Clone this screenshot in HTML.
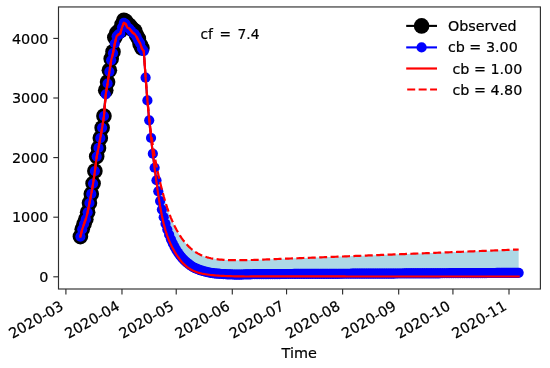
<!DOCTYPE html>
<html><head><meta charset="utf-8"><title>Forecast chart</title>
<style>html,body{margin:0;padding:0;background:#fff}body{width:550px;height:368px;overflow:hidden}svg text{stroke:#000;stroke-width:.2px}</style></head>
<body>
<svg width="550" height="368" viewBox="0 0 550 368" style="display:block" font-family="'DejaVu Sans', 'Liberation Sans', sans-serif" font-size="14.4px" fill="#000">
<rect width="550" height="368" fill="#fff"/>
<filter id="soft" filterUnits="userSpaceOnUse" x="0" y="0" width="550" height="368"><feGaussianBlur stdDeviation="0.4"/></filter>
<g filter="url(#soft)">
<rect width="550" height="368" fill="#fff"/>
<clipPath id="ax"><rect x="58.5" y="6.95" width="481.9" height="282.05"/></clipPath>
<g clip-path="url(#ax)">
<path d="M143.78,51.10 L145.60,76.79 L147.41,99.54 L149.22,118.08 L151.03,132.88 L152.84,145.23 L154.65,155.96 L156.46,165.54 L158.27,174.24 L160.08,182.23 L161.90,189.58 L163.71,196.31 L165.52,202.46 L167.33,208.06 L169.14,213.17 L170.95,217.83 L172.76,222.07 L174.57,225.94 L176.38,229.48 L178.19,232.71 L180.00,235.66 L181.82,238.35 L183.63,240.79 L185.44,243.01 L187.25,245.03 L189.06,246.86 L190.87,248.52 L192.68,250.01 L194.49,251.35 L196.30,252.55 L198.12,253.61 L199.93,254.56 L201.74,255.40 L203.55,256.13 L205.36,256.77 L207.17,257.32 L208.98,257.80 L210.79,258.21 L212.60,258.56 L214.41,258.87 L216.22,259.13 L218.04,259.35 L219.85,259.54 L221.66,259.69 L223.47,259.82 L225.28,259.93 L227.09,260.02 L228.90,260.09 L230.71,260.14 L232.52,260.18 L234.34,260.20 L236.15,260.21 L237.96,260.21 L239.77,260.20 L241.58,260.18 L243.39,260.15 L245.20,260.12 L247.01,260.08 L248.82,260.05 L250.63,260.02 L252.44,259.99 L254.26,259.92 L256.07,259.85 L257.88,259.78 L259.69,259.70 L261.50,259.63 L263.31,259.56 L265.12,259.49 L266.93,259.42 L268.74,259.35 L270.56,259.28 L272.37,259.21 L274.18,259.14 L275.99,259.07 L277.80,259.00 L279.61,258.93 L281.42,258.86 L283.23,258.79 L285.04,258.72 L286.85,258.65 L288.66,258.58 L290.48,258.51 L292.29,258.44 L294.10,258.37 L295.91,258.30 L297.72,258.23 L299.53,258.16 L301.34,258.09 L303.15,258.02 L304.96,257.95 L306.77,257.88 L308.59,257.81 L310.40,257.74 L312.21,257.67 L314.02,257.60 L315.83,257.53 L317.64,257.46 L319.45,257.39 L321.26,257.32 L323.07,257.25 L324.88,257.18 L326.70,257.11 L328.51,257.04 L330.32,256.97 L332.13,256.90 L333.94,256.83 L335.75,256.76 L337.56,256.69 L339.37,256.62 L341.18,256.55 L343.00,256.48 L344.81,256.41 L346.62,256.34 L348.43,256.26 L350.24,256.19 L352.05,256.12 L353.86,256.05 L355.67,255.97 L357.48,255.90 L359.29,255.83 L361.11,255.76 L362.92,255.68 L364.73,255.61 L366.54,255.54 L368.35,255.47 L370.16,255.39 L371.97,255.32 L373.78,255.25 L375.59,255.18 L377.40,255.10 L379.22,255.03 L381.03,254.96 L382.84,254.89 L384.65,254.82 L386.46,254.74 L388.27,254.67 L390.08,254.60 L391.89,254.53 L393.70,254.46 L395.51,254.38 L397.33,254.31 L399.14,254.24 L400.95,254.17 L402.76,254.10 L404.57,254.03 L406.38,253.95 L408.19,253.88 L410.00,253.81 L411.81,253.74 L413.62,253.67 L415.43,253.59 L417.25,253.52 L419.06,253.45 L420.87,253.38 L422.68,253.31 L424.49,253.24 L426.30,253.16 L428.11,253.09 L429.92,253.02 L431.73,252.95 L433.54,252.88 L435.36,252.80 L437.17,252.73 L438.98,252.66 L440.79,252.59 L442.60,252.52 L444.41,252.45 L446.22,252.37 L448.03,252.30 L449.84,252.23 L451.65,252.16 L453.47,252.09 L455.28,252.01 L457.09,251.94 L458.90,251.87 L460.71,251.80 L462.52,251.73 L464.33,251.65 L466.14,251.58 L467.95,251.51 L469.76,251.44 L471.58,251.37 L473.39,251.30 L475.20,251.22 L477.01,251.15 L478.82,251.08 L480.63,251.01 L482.44,250.94 L484.25,250.86 L486.06,250.79 L487.88,250.72 L489.69,250.65 L491.50,250.58 L493.31,250.51 L495.12,250.43 L496.93,250.36 L498.74,250.29 L500.55,250.22 L502.36,250.15 L504.17,250.07 L505.99,250.00 L507.80,249.93 L509.61,249.86 L511.42,249.79 L513.23,249.72 L515.04,249.64 L516.85,249.57 L518.66,249.50 L518.66,276.50 L516.85,276.50 L515.04,276.50 L513.23,276.50 L511.42,276.50 L509.61,276.50 L507.80,276.50 L505.99,276.50 L504.17,276.50 L502.36,276.50 L500.55,276.50 L498.74,276.50 L496.93,276.50 L495.12,276.50 L493.31,276.50 L491.50,276.50 L489.69,276.50 L487.88,276.50 L486.06,276.50 L484.25,276.50 L482.44,276.50 L480.63,276.50 L478.82,276.50 L477.01,276.50 L475.20,276.50 L473.39,276.50 L471.58,276.50 L469.76,276.50 L467.95,276.50 L466.14,276.50 L464.33,276.50 L462.52,276.50 L460.71,276.50 L458.90,276.50 L457.09,276.50 L455.28,276.50 L453.47,276.50 L451.65,276.50 L449.84,276.50 L448.03,276.50 L446.22,276.50 L444.41,276.50 L442.60,276.50 L440.79,276.50 L438.98,276.50 L437.17,276.50 L435.36,276.50 L433.54,276.50 L431.73,276.50 L429.92,276.50 L428.11,276.50 L426.30,276.50 L424.49,276.50 L422.68,276.50 L420.87,276.50 L419.06,276.50 L417.25,276.50 L415.43,276.50 L413.62,276.50 L411.81,276.50 L410.00,276.50 L408.19,276.50 L406.38,276.50 L404.57,276.50 L402.76,276.50 L400.95,276.50 L399.14,276.50 L397.33,276.50 L395.51,276.50 L393.70,276.50 L391.89,276.50 L390.08,276.50 L388.27,276.50 L386.46,276.50 L384.65,276.50 L382.84,276.50 L381.03,276.50 L379.22,276.50 L377.40,276.50 L375.59,276.50 L373.78,276.50 L371.97,276.49 L370.16,276.49 L368.35,276.49 L366.54,276.49 L364.73,276.49 L362.92,276.49 L361.11,276.49 L359.29,276.49 L357.48,276.48 L355.67,276.48 L353.86,276.48 L352.05,276.48 L350.24,276.48 L348.43,276.48 L346.62,276.48 L344.81,276.47 L343.00,276.47 L341.18,276.47 L339.37,276.47 L337.56,276.47 L335.75,276.47 L333.94,276.47 L332.13,276.47 L330.32,276.46 L328.51,276.46 L326.70,276.46 L324.88,276.46 L323.07,276.46 L321.26,276.46 L319.45,276.46 L317.64,276.46 L315.83,276.45 L314.02,276.45 L312.21,276.45 L310.40,276.45 L308.59,276.45 L306.77,276.45 L304.96,276.45 L303.15,276.45 L301.34,276.44 L299.53,276.44 L297.72,276.44 L295.91,276.44 L294.10,276.44 L292.29,276.44 L290.48,276.44 L288.66,276.43 L286.85,276.43 L285.04,276.43 L283.23,276.43 L281.42,276.43 L279.61,276.43 L277.80,276.43 L275.99,276.43 L274.18,276.42 L272.37,276.42 L270.56,276.42 L268.74,276.42 L266.93,276.42 L265.12,276.42 L263.31,276.42 L261.50,276.42 L259.69,276.42 L257.88,276.42 L256.07,276.43 L254.26,276.44 L252.44,276.46 L250.63,276.47 L248.82,276.48 L247.01,276.48 L245.20,276.48 L243.39,276.47 L241.58,276.46 L239.77,276.44 L237.96,276.40 L236.15,276.37 L234.34,276.32 L232.52,276.27 L230.71,276.21 L228.90,276.15 L227.09,276.09 L225.28,276.01 L223.47,275.93 L221.66,275.83 L219.85,275.73 L218.04,275.61 L216.22,275.48 L214.41,275.33 L212.60,275.17 L210.79,274.98 L208.98,274.76 L207.17,274.52 L205.36,274.24 L203.55,273.92 L201.74,273.55 L199.93,273.11 L198.12,272.60 L196.30,272.00 L194.49,271.31 L192.68,270.49 L190.87,269.54 L189.06,268.42 L187.25,267.13 L185.44,265.64 L183.63,263.91 L181.82,261.94 L180.00,259.72 L178.19,257.25 L176.38,254.55 L174.57,251.62 L172.76,248.41 L170.95,244.84 L169.14,240.80 L167.33,236.11 L165.52,230.49 L163.71,223.73 L161.90,215.65 L160.08,206.05 L158.27,194.87 L156.46,182.23 L154.65,168.54 L152.84,153.88 L151.03,138.01 L149.22,120.32 L147.41,100.37 L145.60,77.65 L143.78,51.10Z" fill="#add8e6"/>
<path d="M80.40,236.60 L82.21,229.30 L84.02,224.00 L85.83,219.20 L87.64,212.30 L89.46,203.00 L91.27,193.90 L93.08,183.60 L94.89,171.10 L96.70,156.60 L98.51,147.90 L100.32,138.10 L102.13,127.80 L103.94,116.10 L105.75,90.30 L107.56,82.00 L109.38,70.20 L111.19,58.80 L113.00,51.70 L114.81,37.50 L116.62,33.30 L118.43,31.40 L120.24,30.70 L122.05,24.60 L123.86,20.20 L125.68,21.30 L127.49,24.40 L129.30,25.20 L131.11,27.50 L132.92,29.70 L134.73,30.70 L136.54,35.30 L138.35,38.50 L140.16,44.40 L141.97,48.00" fill="none" stroke="#000" stroke-width="2.1" stroke-linejoin="round"/>
<g fill="#000"><circle cx="80.40" cy="236.60" r="7.8"/><circle cx="82.21" cy="229.30" r="7.8"/><circle cx="84.02" cy="224.00" r="7.8"/><circle cx="85.83" cy="219.20" r="7.8"/><circle cx="87.64" cy="212.30" r="7.8"/><circle cx="89.46" cy="203.00" r="7.8"/><circle cx="91.27" cy="193.90" r="7.8"/><circle cx="93.08" cy="183.60" r="7.8"/><circle cx="94.89" cy="171.10" r="7.8"/><circle cx="96.70" cy="156.60" r="7.8"/><circle cx="98.51" cy="147.90" r="7.8"/><circle cx="100.32" cy="138.10" r="7.8"/><circle cx="102.13" cy="127.80" r="7.8"/><circle cx="103.94" cy="116.10" r="7.8"/><circle cx="105.75" cy="90.30" r="7.8"/><circle cx="107.56" cy="82.00" r="7.8"/><circle cx="109.38" cy="70.20" r="7.8"/><circle cx="111.19" cy="58.80" r="7.8"/><circle cx="113.00" cy="51.70" r="7.8"/><circle cx="114.81" cy="37.50" r="7.8"/><circle cx="116.62" cy="33.30" r="7.8"/><circle cx="118.43" cy="31.40" r="7.8"/><circle cx="120.24" cy="30.70" r="7.8"/><circle cx="122.05" cy="24.60" r="7.8"/><circle cx="123.86" cy="20.20" r="7.8"/><circle cx="125.68" cy="21.30" r="7.8"/><circle cx="127.49" cy="24.40" r="7.8"/><circle cx="129.30" cy="25.20" r="7.8"/><circle cx="131.11" cy="27.50" r="7.8"/><circle cx="132.92" cy="29.70" r="7.8"/><circle cx="134.73" cy="30.70" r="7.8"/><circle cx="136.54" cy="35.30" r="7.8"/><circle cx="138.35" cy="38.50" r="7.8"/><circle cx="140.16" cy="44.40" r="7.8"/><circle cx="141.97" cy="48.00" r="7.8"/></g>
<path d="M80.40,236.60 L82.21,229.30 L84.02,224.00 L85.83,219.20 L87.64,212.30 L89.46,203.00 L91.27,193.90 L93.08,183.60 L94.89,171.10 L96.70,156.60 L98.51,147.90 L100.32,138.10 L102.13,127.80 L103.94,116.10 L105.75,94.30 L107.56,83.50 L109.38,71.70 L111.19,60.30 L113.00,53.20 L114.81,43.50 L116.62,36.30 L118.43,34.40 L120.24,33.70 L122.05,27.30 L123.86,22.80 L125.68,24.00 L127.49,27.70 L129.30,28.50 L131.11,30.80 L132.92,33.00 L134.73,34.00 L136.54,36.80 L138.35,40.50 L140.16,43.40 L141.97,48.60 L143.78,51.10 L145.60,77.72 L147.41,100.40 L149.22,120.31 L151.03,137.98 L152.84,153.73 L154.65,167.76 L156.46,180.24 L158.27,191.29 L160.08,201.03 L161.90,209.60 L163.71,217.13 L165.52,223.76 L167.33,229.59 L169.14,234.73 L170.95,239.28 L172.76,243.29 L174.57,246.86 L176.38,250.02 L178.19,252.83 L180.00,255.34 L181.82,257.58 L183.63,259.58 L185.44,261.37 L187.25,262.97 L189.06,264.40 L190.87,265.67 L192.68,266.80 L194.49,267.79 L196.30,268.67 L198.12,269.44 L199.93,270.12 L201.74,270.72 L203.55,271.25 L205.36,271.72 L207.17,272.13 L208.98,272.49 L210.79,272.80 L212.60,273.08 L214.41,273.32 L216.22,273.53 L218.04,273.71 L219.85,273.87 L221.66,274.00 L223.47,274.12 L225.28,274.22 L227.09,274.30 L228.90,274.37 L230.71,274.44 L232.52,274.49 L234.34,274.53 L236.15,274.55 L237.96,274.56 L239.77,274.55 L241.58,274.53 L243.39,274.50 L245.20,274.46 L247.01,274.42 L248.82,274.37 L250.63,274.31 L252.44,274.26 L254.26,274.22 L256.07,274.18 L257.88,274.15 L259.69,274.12 L261.50,274.11 L263.31,274.10 L265.12,274.09 L266.93,274.09 L268.74,274.08 L270.56,274.07 L272.37,274.06 L274.18,274.05 L275.99,274.05 L277.80,274.04 L279.61,274.03 L281.42,274.02 L283.23,274.02 L285.04,274.01 L286.85,274.00 L288.66,273.99 L290.48,273.98 L292.29,273.98 L294.10,273.97 L295.91,273.96 L297.72,273.95 L299.53,273.95 L301.34,273.94 L303.15,273.93 L304.96,273.92 L306.77,273.91 L308.59,273.91 L310.40,273.90 L312.21,273.89 L314.02,273.88 L315.83,273.88 L317.64,273.87 L319.45,273.86 L321.26,273.85 L323.07,273.84 L324.88,273.84 L326.70,273.83 L328.51,273.82 L330.32,273.81 L332.13,273.81 L333.94,273.80 L335.75,273.79 L337.56,273.78 L339.37,273.77 L341.18,273.77 L343.00,273.76 L344.81,273.75 L346.62,273.74 L348.43,273.74 L350.24,273.73 L352.05,273.72 L353.86,273.71 L355.67,273.70 L357.48,273.70 L359.29,273.69 L361.11,273.68 L362.92,273.67 L364.73,273.67 L366.54,273.66 L368.35,273.65 L370.16,273.64 L371.97,273.63 L373.78,273.63 L375.59,273.62 L377.40,273.61 L379.22,273.60 L381.03,273.60 L382.84,273.59 L384.65,273.58 L386.46,273.57 L388.27,273.56 L390.08,273.55 L391.89,273.54 L393.70,273.53 L395.51,273.52 L397.33,273.51 L399.14,273.50 L400.95,273.49 L402.76,273.48 L404.57,273.47 L406.38,273.46 L408.19,273.45 L410.00,273.44 L411.81,273.43 L413.62,273.42 L415.43,273.41 L417.25,273.40 L419.06,273.39 L420.87,273.38 L422.68,273.37 L424.49,273.36 L426.30,273.35 L428.11,273.34 L429.92,273.33 L431.73,273.32 L433.54,273.31 L435.36,273.30 L437.17,273.29 L438.98,273.28 L440.79,273.27 L442.60,273.26 L444.41,273.25 L446.22,273.24 L448.03,273.23 L449.84,273.22 L451.65,273.21 L453.47,273.20 L455.28,273.19 L457.09,273.18 L458.90,273.17 L460.71,273.16 L462.52,273.15 L464.33,273.14 L466.14,273.13 L467.95,273.12 L469.76,273.11 L471.58,273.10 L473.39,273.10 L475.20,273.09 L477.01,273.08 L478.82,273.07 L480.63,273.06 L482.44,273.05 L484.25,273.04 L486.06,273.03 L487.88,273.02 L489.69,273.01 L491.50,273.00 L493.31,272.99 L495.12,272.98 L496.93,272.97 L498.74,272.96 L500.55,272.95 L502.36,272.94 L504.17,272.93 L505.99,272.92 L507.80,272.91 L509.61,272.90 L511.42,272.89 L513.23,272.88 L515.04,272.87 L516.85,272.86 L518.66,272.85" fill="none" stroke="#00f" stroke-width="2.1" stroke-linejoin="round"/>
<g fill="#00f"><circle cx="80.40" cy="236.60" r="5.1"/><circle cx="82.21" cy="229.30" r="5.1"/><circle cx="84.02" cy="224.00" r="5.1"/><circle cx="85.83" cy="219.20" r="5.1"/><circle cx="87.64" cy="212.30" r="5.1"/><circle cx="89.46" cy="203.00" r="5.1"/><circle cx="91.27" cy="193.90" r="5.1"/><circle cx="93.08" cy="183.60" r="5.1"/><circle cx="94.89" cy="171.10" r="5.1"/><circle cx="96.70" cy="156.60" r="5.1"/><circle cx="98.51" cy="147.90" r="5.1"/><circle cx="100.32" cy="138.10" r="5.1"/><circle cx="102.13" cy="127.80" r="5.1"/><circle cx="103.94" cy="116.10" r="5.1"/><circle cx="105.75" cy="94.30" r="5.1"/><circle cx="107.56" cy="83.50" r="5.1"/><circle cx="109.38" cy="71.70" r="5.1"/><circle cx="111.19" cy="60.30" r="5.1"/><circle cx="113.00" cy="53.20" r="5.1"/><circle cx="114.81" cy="43.50" r="5.1"/><circle cx="116.62" cy="36.30" r="5.1"/><circle cx="118.43" cy="34.40" r="5.1"/><circle cx="120.24" cy="33.70" r="5.1"/><circle cx="122.05" cy="27.30" r="5.1"/><circle cx="123.86" cy="22.80" r="5.1"/><circle cx="125.68" cy="24.00" r="5.1"/><circle cx="127.49" cy="27.70" r="5.1"/><circle cx="129.30" cy="28.50" r="5.1"/><circle cx="131.11" cy="30.80" r="5.1"/><circle cx="132.92" cy="33.00" r="5.1"/><circle cx="134.73" cy="34.00" r="5.1"/><circle cx="136.54" cy="36.80" r="5.1"/><circle cx="138.35" cy="40.50" r="5.1"/><circle cx="140.16" cy="43.40" r="5.1"/><circle cx="141.97" cy="48.60" r="5.1"/><circle cx="143.78" cy="51.10" r="5.1"/><circle cx="145.60" cy="77.72" r="5.1"/><circle cx="147.41" cy="100.40" r="5.1"/><circle cx="149.22" cy="120.31" r="5.1"/><circle cx="151.03" cy="137.98" r="5.1"/><circle cx="152.84" cy="153.73" r="5.1"/><circle cx="154.65" cy="167.76" r="5.1"/><circle cx="156.46" cy="180.24" r="5.1"/><circle cx="158.27" cy="191.29" r="5.1"/><circle cx="160.08" cy="201.03" r="5.1"/><circle cx="161.90" cy="209.60" r="5.1"/><circle cx="163.71" cy="217.13" r="5.1"/><circle cx="165.52" cy="223.76" r="5.1"/><circle cx="167.33" cy="229.59" r="5.1"/><circle cx="169.14" cy="234.73" r="5.1"/><circle cx="170.95" cy="239.28" r="5.1"/><circle cx="172.76" cy="243.29" r="5.1"/><circle cx="174.57" cy="246.86" r="5.1"/><circle cx="176.38" cy="250.02" r="5.1"/><circle cx="178.19" cy="252.83" r="5.1"/><circle cx="180.00" cy="255.34" r="5.1"/><circle cx="181.82" cy="257.58" r="5.1"/><circle cx="183.63" cy="259.58" r="5.1"/><circle cx="185.44" cy="261.37" r="5.1"/><circle cx="187.25" cy="262.97" r="5.1"/><circle cx="189.06" cy="264.40" r="5.1"/><circle cx="190.87" cy="265.67" r="5.1"/><circle cx="192.68" cy="266.80" r="5.1"/><circle cx="194.49" cy="267.79" r="5.1"/><circle cx="196.30" cy="268.67" r="5.1"/><circle cx="198.12" cy="269.44" r="5.1"/><circle cx="199.93" cy="270.12" r="5.1"/><circle cx="201.74" cy="270.72" r="5.1"/><circle cx="203.55" cy="271.25" r="5.1"/><circle cx="205.36" cy="271.72" r="5.1"/><circle cx="207.17" cy="272.13" r="5.1"/><circle cx="208.98" cy="272.49" r="5.1"/><circle cx="210.79" cy="272.80" r="5.1"/><circle cx="212.60" cy="273.08" r="5.1"/><circle cx="214.41" cy="273.32" r="5.1"/><circle cx="216.22" cy="273.53" r="5.1"/><circle cx="218.04" cy="273.71" r="5.1"/><circle cx="219.85" cy="273.87" r="5.1"/><circle cx="221.66" cy="274.00" r="5.1"/><circle cx="223.47" cy="274.12" r="5.1"/><circle cx="225.28" cy="274.22" r="5.1"/><circle cx="227.09" cy="274.30" r="5.1"/><circle cx="228.90" cy="274.37" r="5.1"/><circle cx="230.71" cy="274.44" r="5.1"/><circle cx="232.52" cy="274.49" r="5.1"/><circle cx="234.34" cy="274.53" r="5.1"/><circle cx="236.15" cy="274.55" r="5.1"/><circle cx="237.96" cy="274.56" r="5.1"/><circle cx="239.77" cy="274.55" r="5.1"/><circle cx="241.58" cy="274.53" r="5.1"/><circle cx="243.39" cy="274.50" r="5.1"/><circle cx="245.20" cy="274.46" r="5.1"/><circle cx="247.01" cy="274.42" r="5.1"/><circle cx="248.82" cy="274.37" r="5.1"/><circle cx="250.63" cy="274.31" r="5.1"/><circle cx="252.44" cy="274.26" r="5.1"/><circle cx="254.26" cy="274.22" r="5.1"/><circle cx="256.07" cy="274.18" r="5.1"/><circle cx="257.88" cy="274.15" r="5.1"/><circle cx="259.69" cy="274.12" r="5.1"/><circle cx="261.50" cy="274.11" r="5.1"/><circle cx="263.31" cy="274.10" r="5.1"/><circle cx="265.12" cy="274.09" r="5.1"/><circle cx="266.93" cy="274.09" r="5.1"/><circle cx="268.74" cy="274.08" r="5.1"/><circle cx="270.56" cy="274.07" r="5.1"/><circle cx="272.37" cy="274.06" r="5.1"/><circle cx="274.18" cy="274.05" r="5.1"/><circle cx="275.99" cy="274.05" r="5.1"/><circle cx="277.80" cy="274.04" r="5.1"/><circle cx="279.61" cy="274.03" r="5.1"/><circle cx="281.42" cy="274.02" r="5.1"/><circle cx="283.23" cy="274.02" r="5.1"/><circle cx="285.04" cy="274.01" r="5.1"/><circle cx="286.85" cy="274.00" r="5.1"/><circle cx="288.66" cy="273.99" r="5.1"/><circle cx="290.48" cy="273.98" r="5.1"/><circle cx="292.29" cy="273.98" r="5.1"/><circle cx="294.10" cy="273.97" r="5.1"/><circle cx="295.91" cy="273.96" r="5.1"/><circle cx="297.72" cy="273.95" r="5.1"/><circle cx="299.53" cy="273.95" r="5.1"/><circle cx="301.34" cy="273.94" r="5.1"/><circle cx="303.15" cy="273.93" r="5.1"/><circle cx="304.96" cy="273.92" r="5.1"/><circle cx="306.77" cy="273.91" r="5.1"/><circle cx="308.59" cy="273.91" r="5.1"/><circle cx="310.40" cy="273.90" r="5.1"/><circle cx="312.21" cy="273.89" r="5.1"/><circle cx="314.02" cy="273.88" r="5.1"/><circle cx="315.83" cy="273.88" r="5.1"/><circle cx="317.64" cy="273.87" r="5.1"/><circle cx="319.45" cy="273.86" r="5.1"/><circle cx="321.26" cy="273.85" r="5.1"/><circle cx="323.07" cy="273.84" r="5.1"/><circle cx="324.88" cy="273.84" r="5.1"/><circle cx="326.70" cy="273.83" r="5.1"/><circle cx="328.51" cy="273.82" r="5.1"/><circle cx="330.32" cy="273.81" r="5.1"/><circle cx="332.13" cy="273.81" r="5.1"/><circle cx="333.94" cy="273.80" r="5.1"/><circle cx="335.75" cy="273.79" r="5.1"/><circle cx="337.56" cy="273.78" r="5.1"/><circle cx="339.37" cy="273.77" r="5.1"/><circle cx="341.18" cy="273.77" r="5.1"/><circle cx="343.00" cy="273.76" r="5.1"/><circle cx="344.81" cy="273.75" r="5.1"/><circle cx="346.62" cy="273.74" r="5.1"/><circle cx="348.43" cy="273.74" r="5.1"/><circle cx="350.24" cy="273.73" r="5.1"/><circle cx="352.05" cy="273.72" r="5.1"/><circle cx="353.86" cy="273.71" r="5.1"/><circle cx="355.67" cy="273.70" r="5.1"/><circle cx="357.48" cy="273.70" r="5.1"/><circle cx="359.29" cy="273.69" r="5.1"/><circle cx="361.11" cy="273.68" r="5.1"/><circle cx="362.92" cy="273.67" r="5.1"/><circle cx="364.73" cy="273.67" r="5.1"/><circle cx="366.54" cy="273.66" r="5.1"/><circle cx="368.35" cy="273.65" r="5.1"/><circle cx="370.16" cy="273.64" r="5.1"/><circle cx="371.97" cy="273.63" r="5.1"/><circle cx="373.78" cy="273.63" r="5.1"/><circle cx="375.59" cy="273.62" r="5.1"/><circle cx="377.40" cy="273.61" r="5.1"/><circle cx="379.22" cy="273.60" r="5.1"/><circle cx="381.03" cy="273.60" r="5.1"/><circle cx="382.84" cy="273.59" r="5.1"/><circle cx="384.65" cy="273.58" r="5.1"/><circle cx="386.46" cy="273.57" r="5.1"/><circle cx="388.27" cy="273.56" r="5.1"/><circle cx="390.08" cy="273.55" r="5.1"/><circle cx="391.89" cy="273.54" r="5.1"/><circle cx="393.70" cy="273.53" r="5.1"/><circle cx="395.51" cy="273.52" r="5.1"/><circle cx="397.33" cy="273.51" r="5.1"/><circle cx="399.14" cy="273.50" r="5.1"/><circle cx="400.95" cy="273.49" r="5.1"/><circle cx="402.76" cy="273.48" r="5.1"/><circle cx="404.57" cy="273.47" r="5.1"/><circle cx="406.38" cy="273.46" r="5.1"/><circle cx="408.19" cy="273.45" r="5.1"/><circle cx="410.00" cy="273.44" r="5.1"/><circle cx="411.81" cy="273.43" r="5.1"/><circle cx="413.62" cy="273.42" r="5.1"/><circle cx="415.43" cy="273.41" r="5.1"/><circle cx="417.25" cy="273.40" r="5.1"/><circle cx="419.06" cy="273.39" r="5.1"/><circle cx="420.87" cy="273.38" r="5.1"/><circle cx="422.68" cy="273.37" r="5.1"/><circle cx="424.49" cy="273.36" r="5.1"/><circle cx="426.30" cy="273.35" r="5.1"/><circle cx="428.11" cy="273.34" r="5.1"/><circle cx="429.92" cy="273.33" r="5.1"/><circle cx="431.73" cy="273.32" r="5.1"/><circle cx="433.54" cy="273.31" r="5.1"/><circle cx="435.36" cy="273.30" r="5.1"/><circle cx="437.17" cy="273.29" r="5.1"/><circle cx="438.98" cy="273.28" r="5.1"/><circle cx="440.79" cy="273.27" r="5.1"/><circle cx="442.60" cy="273.26" r="5.1"/><circle cx="444.41" cy="273.25" r="5.1"/><circle cx="446.22" cy="273.24" r="5.1"/><circle cx="448.03" cy="273.23" r="5.1"/><circle cx="449.84" cy="273.22" r="5.1"/><circle cx="451.65" cy="273.21" r="5.1"/><circle cx="453.47" cy="273.20" r="5.1"/><circle cx="455.28" cy="273.19" r="5.1"/><circle cx="457.09" cy="273.18" r="5.1"/><circle cx="458.90" cy="273.17" r="5.1"/><circle cx="460.71" cy="273.16" r="5.1"/><circle cx="462.52" cy="273.15" r="5.1"/><circle cx="464.33" cy="273.14" r="5.1"/><circle cx="466.14" cy="273.13" r="5.1"/><circle cx="467.95" cy="273.12" r="5.1"/><circle cx="469.76" cy="273.11" r="5.1"/><circle cx="471.58" cy="273.10" r="5.1"/><circle cx="473.39" cy="273.10" r="5.1"/><circle cx="475.20" cy="273.09" r="5.1"/><circle cx="477.01" cy="273.08" r="5.1"/><circle cx="478.82" cy="273.07" r="5.1"/><circle cx="480.63" cy="273.06" r="5.1"/><circle cx="482.44" cy="273.05" r="5.1"/><circle cx="484.25" cy="273.04" r="5.1"/><circle cx="486.06" cy="273.03" r="5.1"/><circle cx="487.88" cy="273.02" r="5.1"/><circle cx="489.69" cy="273.01" r="5.1"/><circle cx="491.50" cy="273.00" r="5.1"/><circle cx="493.31" cy="272.99" r="5.1"/><circle cx="495.12" cy="272.98" r="5.1"/><circle cx="496.93" cy="272.97" r="5.1"/><circle cx="498.74" cy="272.96" r="5.1"/><circle cx="500.55" cy="272.95" r="5.1"/><circle cx="502.36" cy="272.94" r="5.1"/><circle cx="504.17" cy="272.93" r="5.1"/><circle cx="505.99" cy="272.92" r="5.1"/><circle cx="507.80" cy="272.91" r="5.1"/><circle cx="509.61" cy="272.90" r="5.1"/><circle cx="511.42" cy="272.89" r="5.1"/><circle cx="513.23" cy="272.88" r="5.1"/><circle cx="515.04" cy="272.87" r="5.1"/><circle cx="516.85" cy="272.86" r="5.1"/><circle cx="518.66" cy="272.85" r="5.1"/></g>
<path d="M80.40,236.60 L82.21,229.30 L84.02,224.00 L85.83,219.20 L87.64,212.30 L89.46,203.00 L91.27,193.90 L93.08,183.60 L94.89,171.10 L96.70,156.60 L98.51,147.90 L100.32,138.10 L102.13,127.80 L103.94,116.10 L105.75,94.30 L107.56,83.50 L109.38,71.70 L111.19,60.30 L113.00,53.20 L114.81,43.50 L116.62,36.30 L118.43,34.40 L120.24,33.70 L122.05,27.30 L123.86,22.80 L125.68,24.00 L127.49,27.70 L129.30,28.50 L131.11,30.80 L132.92,33.00 L134.73,34.00 L136.54,36.80 L138.35,40.50 L140.16,43.40 L141.97,48.60 L143.78,51.10 L145.60,77.65 L147.41,100.37 L149.22,120.32 L151.03,138.01 L152.84,153.88 L154.65,168.54 L156.46,182.23 L158.27,194.87 L160.08,206.05 L161.90,215.65 L163.71,223.73 L165.52,230.49 L167.33,236.11 L169.14,240.80 L170.95,244.84 L172.76,248.41 L174.57,251.62 L176.38,254.55 L178.19,257.25 L180.00,259.72 L181.82,261.94 L183.63,263.91 L185.44,265.64 L187.25,267.13 L189.06,268.42 L190.87,269.54 L192.68,270.49 L194.49,271.31 L196.30,272.00 L198.12,272.60 L199.93,273.11 L201.74,273.55 L203.55,273.92 L205.36,274.24 L207.17,274.52 L208.98,274.76 L210.79,274.98 L212.60,275.17 L214.41,275.33 L216.22,275.48 L218.04,275.61 L219.85,275.73 L221.66,275.83 L223.47,275.93 L225.28,276.01 L227.09,276.09 L228.90,276.15 L230.71,276.21 L232.52,276.27 L234.34,276.32 L236.15,276.37 L237.96,276.40 L239.77,276.44 L241.58,276.46 L243.39,276.47 L245.20,276.48 L247.01,276.48 L248.82,276.48 L250.63,276.47 L252.44,276.46 L254.26,276.44 L256.07,276.43 L257.88,276.42 L259.69,276.42 L261.50,276.42 L263.31,276.42 L265.12,276.42 L266.93,276.42 L268.74,276.42 L270.56,276.42 L272.37,276.42 L274.18,276.42 L275.99,276.43 L277.80,276.43 L279.61,276.43 L281.42,276.43 L283.23,276.43 L285.04,276.43 L286.85,276.43 L288.66,276.43 L290.48,276.44 L292.29,276.44 L294.10,276.44 L295.91,276.44 L297.72,276.44 L299.53,276.44 L301.34,276.44 L303.15,276.45 L304.96,276.45 L306.77,276.45 L308.59,276.45 L310.40,276.45 L312.21,276.45 L314.02,276.45 L315.83,276.45 L317.64,276.46 L319.45,276.46 L321.26,276.46 L323.07,276.46 L324.88,276.46 L326.70,276.46 L328.51,276.46 L330.32,276.46 L332.13,276.47 L333.94,276.47 L335.75,276.47 L337.56,276.47 L339.37,276.47 L341.18,276.47 L343.00,276.47 L344.81,276.47 L346.62,276.48 L348.43,276.48 L350.24,276.48 L352.05,276.48 L353.86,276.48 L355.67,276.48 L357.48,276.48 L359.29,276.49 L361.11,276.49 L362.92,276.49 L364.73,276.49 L366.54,276.49 L368.35,276.49 L370.16,276.49 L371.97,276.49 L373.78,276.50 L375.59,276.50 L377.40,276.50 L379.22,276.50 L381.03,276.50 L382.84,276.50 L384.65,276.50 L386.46,276.50 L388.27,276.50 L390.08,276.50 L391.89,276.50 L393.70,276.50 L395.51,276.50 L397.33,276.50 L399.14,276.50 L400.95,276.50 L402.76,276.50 L404.57,276.50 L406.38,276.50 L408.19,276.50 L410.00,276.50 L411.81,276.50 L413.62,276.50 L415.43,276.50 L417.25,276.50 L419.06,276.50 L420.87,276.50 L422.68,276.50 L424.49,276.50 L426.30,276.50 L428.11,276.50 L429.92,276.50 L431.73,276.50 L433.54,276.50 L435.36,276.50 L437.17,276.50 L438.98,276.50 L440.79,276.50 L442.60,276.50 L444.41,276.50 L446.22,276.50 L448.03,276.50 L449.84,276.50 L451.65,276.50 L453.47,276.50 L455.28,276.50 L457.09,276.50 L458.90,276.50 L460.71,276.50 L462.52,276.50 L464.33,276.50 L466.14,276.50 L467.95,276.50 L469.76,276.50 L471.58,276.50 L473.39,276.50 L475.20,276.50 L477.01,276.50 L478.82,276.50 L480.63,276.50 L482.44,276.50 L484.25,276.50 L486.06,276.50 L487.88,276.50 L489.69,276.50 L491.50,276.50 L493.31,276.50 L495.12,276.50 L496.93,276.50 L498.74,276.50 L500.55,276.50 L502.36,276.50 L504.17,276.50 L505.99,276.50 L507.80,276.50 L509.61,276.50 L511.42,276.50 L513.23,276.50 L515.04,276.50 L516.85,276.50 L518.66,276.50" fill="none" stroke="#f00" stroke-width="2.2" stroke-linejoin="round" stroke-linecap="square"/>
<path d="M80.40,236.60 L82.21,229.30 L84.02,224.00 L85.83,219.20 L87.64,212.30 L89.46,203.00 L91.27,193.90 L93.08,183.60 L94.89,171.10 L96.70,156.60 L98.51,147.90 L100.32,138.10 L102.13,127.80 L103.94,116.10 L105.75,94.30 L107.56,83.50 L109.38,71.70 L111.19,60.30 L113.00,53.20 L114.81,43.50 L116.62,36.30 L118.43,34.40 L120.24,33.70 L122.05,27.30 L123.86,22.80 L125.68,24.00 L127.49,27.70 L129.30,28.50 L131.11,30.80 L132.92,33.00 L134.73,34.00 L136.54,36.80 L138.35,40.50 L140.16,43.40 L141.97,48.60 L143.78,51.10 L145.60,76.79 L147.41,99.54 L149.22,118.08 L151.03,132.88 L152.84,145.23 L154.65,155.96 L156.46,165.54 L158.27,174.24 L160.08,182.23 L161.90,189.58 L163.71,196.31 L165.52,202.46 L167.33,208.06 L169.14,213.17 L170.95,217.83 L172.76,222.07 L174.57,225.94 L176.38,229.48 L178.19,232.71 L180.00,235.66 L181.82,238.35 L183.63,240.79 L185.44,243.01 L187.25,245.03 L189.06,246.86 L190.87,248.52 L192.68,250.01 L194.49,251.35 L196.30,252.55 L198.12,253.61 L199.93,254.56 L201.74,255.40 L203.55,256.13 L205.36,256.77 L207.17,257.32 L208.98,257.80 L210.79,258.21 L212.60,258.56 L214.41,258.87 L216.22,259.13 L218.04,259.35 L219.85,259.54 L221.66,259.69 L223.47,259.82 L225.28,259.93 L227.09,260.02 L228.90,260.09 L230.71,260.14 L232.52,260.18 L234.34,260.20 L236.15,260.21 L237.96,260.21 L239.77,260.20 L241.58,260.18 L243.39,260.15 L245.20,260.12 L247.01,260.08 L248.82,260.05 L250.63,260.02 L252.44,259.99 L254.26,259.92 L256.07,259.85 L257.88,259.78 L259.69,259.70 L261.50,259.63 L263.31,259.56 L265.12,259.49 L266.93,259.42 L268.74,259.35 L270.56,259.28 L272.37,259.21 L274.18,259.14 L275.99,259.07 L277.80,259.00 L279.61,258.93 L281.42,258.86 L283.23,258.79 L285.04,258.72 L286.85,258.65 L288.66,258.58 L290.48,258.51 L292.29,258.44 L294.10,258.37 L295.91,258.30 L297.72,258.23 L299.53,258.16 L301.34,258.09 L303.15,258.02 L304.96,257.95 L306.77,257.88 L308.59,257.81 L310.40,257.74 L312.21,257.67 L314.02,257.60 L315.83,257.53 L317.64,257.46 L319.45,257.39 L321.26,257.32 L323.07,257.25 L324.88,257.18 L326.70,257.11 L328.51,257.04 L330.32,256.97 L332.13,256.90 L333.94,256.83 L335.75,256.76 L337.56,256.69 L339.37,256.62 L341.18,256.55 L343.00,256.48 L344.81,256.41 L346.62,256.34 L348.43,256.26 L350.24,256.19 L352.05,256.12 L353.86,256.05 L355.67,255.97 L357.48,255.90 L359.29,255.83 L361.11,255.76 L362.92,255.68 L364.73,255.61 L366.54,255.54 L368.35,255.47 L370.16,255.39 L371.97,255.32 L373.78,255.25 L375.59,255.18 L377.40,255.10 L379.22,255.03 L381.03,254.96 L382.84,254.89 L384.65,254.82 L386.46,254.74 L388.27,254.67 L390.08,254.60 L391.89,254.53 L393.70,254.46 L395.51,254.38 L397.33,254.31 L399.14,254.24 L400.95,254.17 L402.76,254.10 L404.57,254.03 L406.38,253.95 L408.19,253.88 L410.00,253.81 L411.81,253.74 L413.62,253.67 L415.43,253.59 L417.25,253.52 L419.06,253.45 L420.87,253.38 L422.68,253.31 L424.49,253.24 L426.30,253.16 L428.11,253.09 L429.92,253.02 L431.73,252.95 L433.54,252.88 L435.36,252.80 L437.17,252.73 L438.98,252.66 L440.79,252.59 L442.60,252.52 L444.41,252.45 L446.22,252.37 L448.03,252.30 L449.84,252.23 L451.65,252.16 L453.47,252.09 L455.28,252.01 L457.09,251.94 L458.90,251.87 L460.71,251.80 L462.52,251.73 L464.33,251.65 L466.14,251.58 L467.95,251.51 L469.76,251.44 L471.58,251.37 L473.39,251.30 L475.20,251.22 L477.01,251.15 L478.82,251.08 L480.63,251.01 L482.44,250.94 L484.25,250.86 L486.06,250.79 L487.88,250.72 L489.69,250.65 L491.50,250.58 L493.31,250.51 L495.12,250.43 L496.93,250.36 L498.74,250.29 L500.55,250.22 L502.36,250.15 L504.17,250.07 L505.99,250.00 L507.80,249.93 L509.61,249.86 L511.42,249.79 L513.23,249.72 L515.04,249.64 L516.85,249.57 L518.66,249.50" fill="none" stroke="#f00" stroke-width="2.2" stroke-linejoin="round" stroke-dasharray="7.97 3.44" stroke-dashoffset="0.3"/>
</g>
<rect x="58.5" y="6.95" width="481.9" height="282.05" fill="none" stroke="#2e2e2e" stroke-width="1.15"/>
<g stroke="#2e2e2e" stroke-width="1.15">
<line x1="53.30" x2="58.5" y1="276.80" y2="276.80"/>
<line x1="53.30" x2="58.5" y1="217.20" y2="217.20"/>
<line x1="53.30" x2="58.5" y1="157.60" y2="157.60"/>
<line x1="53.30" x2="58.5" y1="98.00" y2="98.00"/>
<line x1="53.30" x2="58.5" y1="38.40" y2="38.40"/>
<line x1="65.90" x2="65.90" y1="289.0" y2="294.40"/>
<line x1="121.97" x2="121.97" y1="289.0" y2="294.40"/>
<line x1="176.22" x2="176.22" y1="289.0" y2="294.40"/>
<line x1="232.29" x2="232.29" y1="289.0" y2="294.40"/>
<line x1="286.55" x2="286.55" y1="289.0" y2="294.40"/>
<line x1="342.61" x2="342.61" y1="289.0" y2="294.40"/>
<line x1="398.68" x2="398.68" y1="289.0" y2="294.40"/>
<line x1="452.93" x2="452.93" y1="289.0" y2="294.40"/>
<line x1="509.00" x2="509.00" y1="289.0" y2="294.40"/>
</g>
<text x="48.5" y="282.05" text-anchor="end">0</text>
<text x="48.5" y="222.45" text-anchor="end">1000</text>
<text x="48.5" y="162.85" text-anchor="end">2000</text>
<text x="48.5" y="103.25" text-anchor="end">3000</text>
<text x="48.5" y="43.65" text-anchor="end">4000</text>
<text transform="translate(64.50,309.0) rotate(-30)" text-anchor="end">2020-03</text>
<text transform="translate(120.57,309.0) rotate(-30)" text-anchor="end">2020-04</text>
<text transform="translate(174.82,309.0) rotate(-30)" text-anchor="end">2020-05</text>
<text transform="translate(230.89,309.0) rotate(-30)" text-anchor="end">2020-06</text>
<text transform="translate(285.15,309.0) rotate(-30)" text-anchor="end">2020-07</text>
<text transform="translate(341.21,309.0) rotate(-30)" text-anchor="end">2020-08</text>
<text transform="translate(397.28,309.0) rotate(-30)" text-anchor="end">2020-09</text>
<text transform="translate(451.53,309.0) rotate(-30)" text-anchor="end">2020-10</text>
<text transform="translate(507.60,309.0) rotate(-30)" text-anchor="end">2020-11</text>
<text x="299.2" y="358.3" text-anchor="middle">Time</text>
<text x="200.5" y="38.5" font-size="13.8px" word-spacing="2.1px">cf = 7.4</text>
<line x1="406.2" x2="437.0" y1="25.9" y2="25.9" stroke="#000" stroke-width="2.1"/><circle cx="421.6" cy="25.9" r="7.8" fill="#000"/>
<line x1="406.2" x2="437.0" y1="47.4" y2="47.4" stroke="#00f" stroke-width="2.1"/><circle cx="421.6" cy="47.4" r="5.1" fill="#00f"/>
<line x1="406.2" x2="437.0" y1="68.5" y2="68.5" stroke="#f00" stroke-width="2.2"/>
<line x1="407.2" x2="437.0" y1="89.5" y2="89.5" stroke="#f00" stroke-width="2.2" stroke-dasharray="8 3.45"/>
<text x="447.9" y="31.00" font-size="14.3px" xml:space="preserve">Observed</text>
<text x="447.9" y="52.30" font-size="14.3px" xml:space="preserve">cb = 3.00</text>
<text x="447.9" y="73.60" font-size="14.3px" xml:space="preserve"> cb = 1.00</text>
<text x="447.9" y="94.90" font-size="14.3px" xml:space="preserve"> cb = 4.80</text>
</g>
</svg>
</body></html>
